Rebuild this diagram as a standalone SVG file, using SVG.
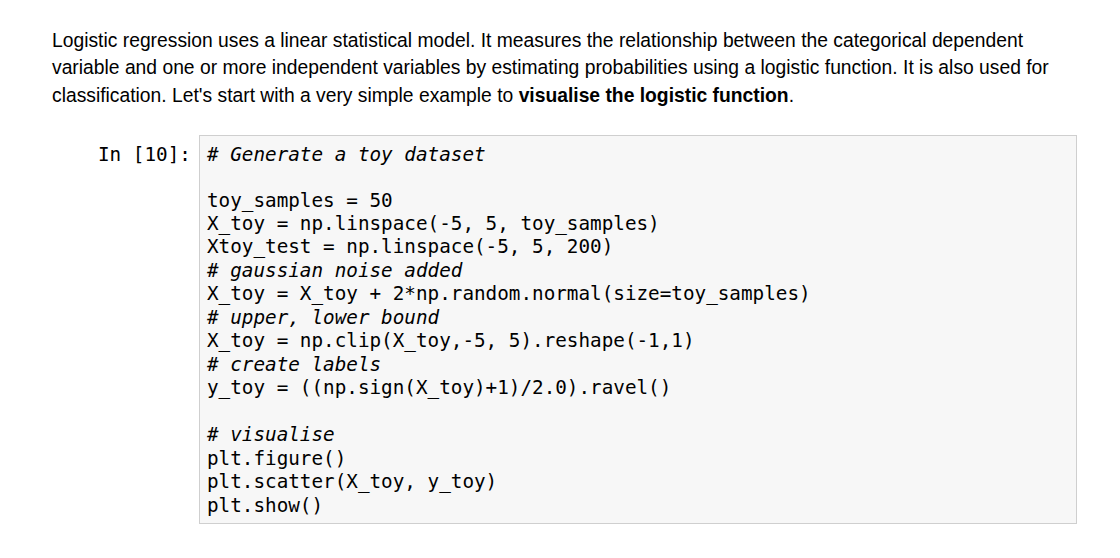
<svg xmlns="http://www.w3.org/2000/svg" width="1120" height="558" viewBox="0 0 1120 558">
<style>
.p{font-family:"Liberation Sans",Arial,sans-serif;font-size:19.3px;fill:#000}
.c{font-family:"DejaVu Sans Mono",monospace;font-size:19.3px;fill:#000}
.i{font-style:italic}
</style>
<rect width="1120" height="558" fill="#fff"/>
<g id="text">
<text class="p" x="52" y="47">Logistic regression uses a linear statistical model. It measures the relationship between the categorical dependent</text>
<text class="p" x="52" y="74">variable and one or more independent variables by estimating probabilities using a logistic function. It is also used for</text>
<text class="p" x="52" y="102">classification. Let's start with a very simple example to <tspan font-weight="bold">visualise the logistic function</tspan>.</text>
</g>
<g id="cell">
<text class="c" x="98" y="161">In [10]:</text>
<rect x="199.5" y="135.5" width="877" height="388" fill="#f7f7f7" stroke="#cfcfcf"/>
<text class="c i" x="207" y="161"># Generate a toy dataset</text>
<text class="c" x="207" y="207">toy_samples = 50</text>
<text class="c" x="207" y="230">X_toy = np.linspace(-5, 5, toy_samples)</text>
<text class="c" x="207" y="253">Xtoy_test = np.linspace(-5, 5, 200)</text>
<text class="c i" x="207" y="277"># gaussian noise added</text>
<text class="c" x="207" y="300">X_toy = X_toy + 2*np.random.normal(size=toy_samples)</text>
<text class="c i" x="207" y="324"># upper, lower bound</text>
<text class="c" x="207" y="347">X_toy = np.clip(X_toy,-5, 5).reshape(-1,1)</text>
<text class="c i" x="207" y="371"># create labels</text>
<text class="c" x="207" y="394">y_toy = ((np.sign(X_toy)+1)/2.0).ravel()</text>
<text class="c i" x="207" y="441"># visualise</text>
<text class="c" x="207" y="465">plt.figure()</text>
<text class="c" x="207" y="488">plt.scatter(X_toy, y_toy)</text>
<text class="c" x="207" y="512">plt.show()</text>
</g>
</svg>
